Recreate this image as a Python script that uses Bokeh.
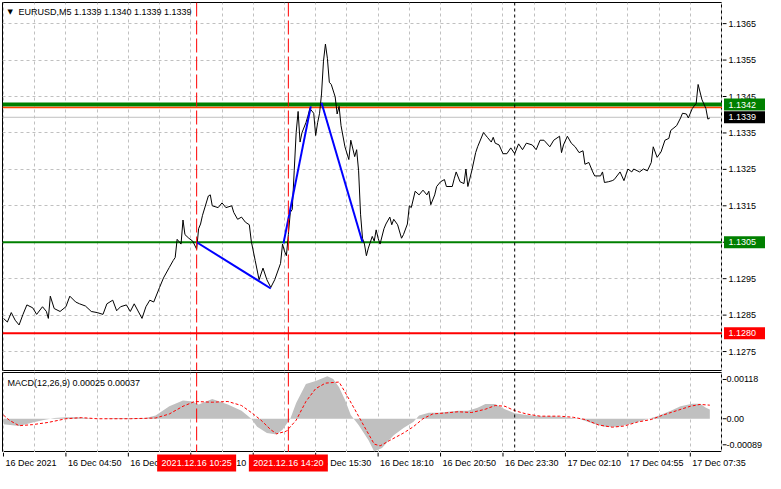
from bokeh.plotting import figure
from bokeh.models import Range1d, FixedTicker, Span, Label, Grid
from bokeh.layouts import column, row
from bokeh.core.properties import value
from bokeh.embed import file_html
from bokeh.resources import INLINE

# ---------------- data ----------------
price_bar = [0, 2, 4, 6, 8, 10, 12, 15, 17, 20, 22, 23, 24, 26, 29, 32, 34, 37, 39, 42, 45, 48, 51, 53,
             56, 58, 60, 63, 65, 67, 71, 73, 75, 77, 80, 82, 85, 87, 88, 89, 91, 92, 93, 95, 97, 99,
             100, 101, 102, 105, 106, 107, 110, 112, 114, 117, 118, 120, 122, 124, 126, 127, 129,
             131, 133, 135, 137, 139, 142, 143, 144, 145, 146, 147, 148, 149, 150, 151, 152, 153,
             155, 156, 157, 159, 160, 161, 162, 163, 164, 165, 166, 167, 168, 170, 171, 172, 173,
             175, 177, 178, 180, 181, 182, 183, 184, 185, 186, 187, 189, 190, 191, 192, 193, 195,
             196, 198, 199, 200, 202, 204, 205, 207, 208, 209, 211, 213, 215, 217, 218, 219, 221,
             222, 224, 226, 227, 230, 231, 232, 234, 236, 237, 238, 240, 242, 243, 246, 248, 250,
             251, 252, 254, 256, 258, 260, 262, 264, 266, 268, 271, 273, 275, 277, 280, 282, 285,
             286, 287, 289, 291, 293, 295, 297, 298, 300, 302, 303, 306, 307, 308, 310, 312, 313,
             316, 318, 320, 322, 323, 326, 328, 330, 332, 333, 335, 337, 339, 341, 342, 345, 347,
             348, 350, 351, 353, 355, 356, 358, 360, 361, 362]
price_close = [1.12841, 1.12831, 1.12857, 1.12836, 1.12823, 1.12852, 1.12878, 1.12870, 1.12852,
               1.12873, 1.12860, 1.12841, 1.12902, 1.12868, 1.12860, 1.12873, 1.12902, 1.12886,
               1.12881, 1.12875, 1.12860, 1.12857, 1.12852, 1.12881, 1.12891, 1.12862, 1.12873,
               1.12878, 1.12860, 1.12881, 1.12841, 1.12873, 1.12891, 1.12886, 1.12926, 1.12952,
               1.12981, 1.13000, 1.13008, 1.13058, 1.13045, 1.13111, 1.13071, 1.13061, 1.13053,
               1.13031, 1.13087, 1.13100, 1.13124, 1.13177, 1.13180, 1.13150, 1.13145, 1.13158,
               1.13145, 1.13150, 1.13132, 1.13113, 1.13119, 1.13105, 1.13098, 1.13053, 1.13000,
               1.12947, 1.12979, 1.12947, 1.12926, 1.12947, 1.12992, 1.13045, 1.13026, 1.13013,
               1.13071, 1.13132, 1.13140, 1.13246, 1.13351, 1.13409, 1.13325, 1.13351, 1.13378,
               1.13396, 1.13417, 1.13404, 1.13343, 1.13378, 1.13404, 1.13457, 1.13547, 1.13594,
               1.13555, 1.13489, 1.13483, 1.13449, 1.13402, 1.13423, 1.13370, 1.13312, 1.13277,
               1.13330, 1.13285, 1.13304, 1.13246, 1.13127, 1.13061, 1.13045, 1.13013, 1.13034,
               1.13066, 1.13053, 1.13084, 1.13061, 1.13045, 1.13087, 1.13100, 1.13119, 1.13098,
               1.13113, 1.13098, 1.13061, 1.13071, 1.13100, 1.13150, 1.13145, 1.13190, 1.13180,
               1.13193, 1.13180, 1.13190, 1.13153, 1.13180, 1.13203, 1.13216, 1.13222, 1.13203,
               1.13203, 1.13224, 1.13243, 1.13216, 1.13211, 1.13251, 1.13203, 1.13246, 1.13296,
               1.13312, 1.13351, 1.13338, 1.13325, 1.13338, 1.13322, 1.13317, 1.13293, 1.13293,
               1.13309, 1.13293, 1.13320, 1.13304, 1.13322, 1.13317, 1.13304, 1.13330, 1.13330,
               1.13312, 1.13330, 1.13341, 1.13296, 1.13317, 1.13341, 1.13322, 1.13312, 1.13296,
               1.13301, 1.13264, 1.13269, 1.13243, 1.13232, 1.13232, 1.13243, 1.13214, 1.13216,
               1.13219, 1.13222, 1.13243, 1.13219, 1.13251, 1.13243, 1.13251, 1.13243, 1.13251,
               1.13246, 1.13269, 1.13312, 1.13283, 1.13298, 1.13330, 1.13335, 1.13357, 1.13370,
               1.13391, 1.13404, 1.13402, 1.13391, 1.13417, 1.13431, 1.13483, 1.13441, 1.13417,
               1.13388, 1.13391]

macd_bar = [0, 8, 15, 20, 26, 32, 38, 48, 57, 73, 78, 85, 92, 97, 100, 107, 115, 122, 127, 130,
            135, 140, 143, 147, 150, 155, 160, 166, 169, 172, 175, 178, 182, 187, 190, 194, 197,
            200, 205, 210, 213, 218, 223, 228, 233, 238, 243, 247, 252, 257, 262, 268, 275, 282,
            288, 295, 302, 308, 315, 322, 328, 335, 342, 347, 353, 357, 360, 362]
macd_main = [-0.00015, -0.00020, -0.00010, -0.00004, 0.00002, 0.00004, 0.00004, -0.00001, 0.00002,
             0.00002, 0.00009, 0.00034, 0.00050, 0.00047, 0.00039, 0.00054, 0.00039, 0.00022,
             0.00000, -0.00022, -0.00039, -0.00043, -0.00030, 0.00000, 0.00043, 0.00095, 0.00103,
             0.00116, 0.00108, 0.00086, 0.00052, 0.00010, -0.00017, -0.00058, -0.00089, -0.00080,
             -0.00062, -0.00045, -0.00025, -0.00009, 0.00009, 0.00016, 0.00016, 0.00019, 0.00022,
             0.00022, 0.00030, 0.00040, 0.00040, 0.00026, 0.00015, 0.00010, 0.00007, 0.00007,
             0.00004, 0.00000, -0.00013, -0.00022, -0.00022, -0.00013, -0.00004, 0.00007, 0.00022,
             0.00034, 0.00041, 0.00041, 0.00030, 0.00025]

signal_bar = [0, 3, 8, 15, 23, 32, 40, 48, 65, 78, 85, 92, 98, 107, 115, 122, 127, 132, 137, 140,
              145, 150, 155, 160, 165, 172, 175, 180, 185, 190, 193, 198, 205, 210, 215, 220, 227,
              233, 240, 247, 252, 257, 262, 268, 275, 285, 292, 298, 305, 312, 318, 325, 332, 338,
              345, 352, 357, 362]
signal_val = [0.00010, -0.00004, -0.00019, -0.00016, -0.00010, 0.00000, 0.00003, 0.00000, 0.00000,
              0.00002, 0.00013, 0.00034, 0.00047, 0.00045, 0.00047, 0.00036, 0.00017, -0.00004,
              -0.00030, -0.00041, -0.00034, -0.00004, 0.00047, 0.00082, 0.00097, 0.00100, 0.00073,
              0.00026, -0.00022, -0.00069, -0.00074, -0.00059, -0.00039, -0.00022, 0.00000, 0.00013,
              0.00016, 0.00019, 0.00017, 0.00026, 0.00036, 0.00034, 0.00022, 0.00013, 0.00007,
              0.00007, 0.00004, -0.00002, -0.00017, -0.00023, -0.00020, -0.00009, -0.00002, 0.00010,
              0.00022, 0.00034, 0.00039, 0.00037]

trend_bar0 = [99, 143.5, 163]
trend_price0 = [1.13050, 1.13047, 1.13433]
trend_bar1 = [137, 157.5, 184]
trend_price1 = [1.12923, 1.13423, 1.13050]

level_price = [1.13428, 1.13420, 1.13393, 1.13050, 1.12800]
tag_price = [1.13428, 1.13393, 1.13050, 1.12800]
tag_text = ["1.1342", "1.1339", "1.1305", "1.1280"]

event_bar = [99, 146]
event_text = ["2021.12.16 10:25", "2021.12.16 14:20"]
day_sep_bar = [262]

price_ticks = [1.1275, 1.1285, 1.1295, 1.1305, 1.1315, 1.1325, 1.1335, 1.1345, 1.1355, 1.1365]
macd_tick_text = ["0.00118", "0.00", "-0.00089"]
time_tick_bar = [0, 32, 64, 96, 128, 160, 192, 224, 256, 288, 320, 352]
time_tick_text = ["16 Dec 2021", "16 Dec 04:50", "16 Dec 07:30", "16 Dec 10:10", "16 Dec 12:50",
                  "16 Dec 15:30", "16 Dec 18:10", "16 Dec 20:50", "16 Dec 23:30", "17 Dec 02:10",
                  "17 Dec 04:55", "17 Dec 07:35"]

main_title = "EURUSD,M5  1.1339 1.1340 1.1339 1.1339"
macd_title = "MACD(12,26,9) 0.00025 0.00037"

# ---------------- styles / layout ----------------
FONT = "Liberation Sans"
GRID = "#c0c0c0"
level_color = ["#008000", "#ff4500", "#c0c0c0", "#008000", "#ff0000"]
level_width = [4, 1.5, 1, 2, 2]
tag_color = ["#008000", "#000000", "#008000", "#ff0000"]

FW, AXW = 720, 43            # plot frame width, right scale strip width
X0, X1 = -0.5, 368.5
PX_PER_BAR = FW / (X1 - X0)
P0, P1 = 1.12698, 1.13708
M0, M1 = -0.00092, 0.00126
macd_tick_pos = [0.00107, 0.0, -0.00071]   # where MT4 draws its scale labels
xr = Range1d(X0, X1)

COMMON = dict(output_backend="svg", toolbar_location=None, background_fill_color="white",
              border_fill_color="white")


def add_vgrid(fig):
    fig.add_layout(Grid(dimension=0, ticker=FixedTicker(ticks=list(range(0, 369, 16))),
                        grid_line_color=GRID, grid_line_dash="3 3", grid_line_width=1))


def add_vlines(fig):
    for b in event_bar:
        fig.add_layout(Span(location=b, dimension="height", line_color="#ff0000",
                            line_dash="14 4", line_width=1))
    for b in day_sep_bar:
        fig.add_layout(Span(location=b, dimension="height", line_color="black",
                            line_dash="3 3", line_width=1))


def side_axis(yr, fh, top, ticks, labels, text_x):
    s = figure(frame_width=AXW, frame_height=fh, x_range=Range1d(0, AXW), y_range=yr,
               x_axis_location=None, y_axis_location=None, min_border_left=0, min_border_right=0,
               min_border_top=top, min_border_bottom=2 if top else 0, outline_line_color=None,
               **COMMON)
    s.grid.visible = False
    s.segment(x0=0, y0=ticks, x1=4, y1=ticks, line_color="black", line_width=1)
    s.text(x=text_x, y=ticks, text=labels, text_font=value(FONT), text_font_size="9px",
           text_baseline="middle", text_align="left", text_color="black")
    return s


# ---------------- main price panel ----------------
p = figure(frame_width=FW, frame_height=368, x_range=xr, y_range=Range1d(P0, P1),
           x_axis_location=None, y_axis_location=None, min_border_left=2, min_border_right=0,
           min_border_top=2, min_border_bottom=2, outline_line_color="black",
           outline_line_width=1, **COMMON)
p.grid.visible = False
add_vgrid(p)
p.add_layout(Grid(dimension=1, ticker=FixedTicker(ticks=price_ticks), grid_line_color=GRID,
                  grid_line_dash="3 3", grid_line_width=1))
for lv, c, w in zip(level_price, level_color, level_width):
    p.add_layout(Span(location=lv, dimension="width", line_color=c, line_width=w, level="underlay"))
add_vlines(p)

p.line(price_bar, price_close, line_color="black", line_width=1)
p.segment(x0=trend_bar0, y0=trend_price0, x1=trend_bar1, y1=trend_price1,
          line_color="#0000ff", line_width=2)

p.add_layout(Label(x=X0, y=P1, x_offset=5, y_offset=-9, text="\u25bc", text_font="DejaVu Sans",
                   text_font_size="7px", text_baseline="middle", text_color="black"))
p.add_layout(Label(x=X0, y=P1, x_offset=16, y_offset=-9, text=main_title, text_font=FONT,
                   text_font_size="9px", text_baseline="middle", text_color="black"))

ps = side_axis(p.y_range, 368, 2, price_ticks, [f"{t:.4f}" for t in price_ticks], 6)
ps.rect(x=AXW / 2 + 1, y=tag_price, width=AXW - 1, height=12, width_units="screen",
        height_units="screen", fill_color=tag_color, line_color=None)
ps.text(x=6, y=tag_price, text=tag_text, text_font=value(FONT), text_font_size="9px",
        text_baseline="middle", text_align="left", text_color="white")

# ---------------- MACD panel ----------------
m = figure(frame_width=FW, frame_height=80, x_range=xr, y_range=Range1d(M0, M1),
           x_axis_location=None, y_axis_location=None, min_border_left=2, min_border_right=0,
           min_border_top=0, min_border_bottom=0, outline_line_color="black",
           outline_line_width=1, **COMMON)
m.grid.visible = False
add_vgrid(m)
m.varea(x=macd_bar, y1=0, y2=macd_main, fill_color="#c0c0c0")
m.line(signal_bar, signal_val, line_color="#ff0000", line_dash="3 2", line_width=1)
add_vlines(m)
m.add_layout(Label(x=X0, y=M1, x_offset=5, y_offset=-10, text=macd_title, text_font=FONT,
                   text_font_size="9px", text_baseline="middle", text_color="black"))

ms = side_axis(m.y_range, 80, 0, macd_tick_pos, macd_tick_text, 4)

# ---------------- time scale strip ----------------
t = figure(frame_width=FW + AXW, frame_height=21,
           x_range=Range1d(X0, X0 + (FW + AXW) / PX_PER_BAR), y_range=Range1d(0, 21),
           x_axis_location=None, y_axis_location=None, min_border_left=2, min_border_right=0,
           min_border_top=0, min_border_bottom=0, outline_line_color=None, **COMMON)
t.grid.visible = False
t.segment(x0=time_tick_bar, y0=21, x1=time_tick_bar, y1=17, line_color="black", line_width=1)
t.text(x=time_tick_bar, y=10.5, text=time_tick_text, x_offset=2, text_font=value(FONT),
       text_font_size="9px", text_baseline="middle", text_align="left", text_color="black")
t.rect(x=event_bar, y=10.5, width=79, height=17, width_units="screen", height_units="screen",
       fill_color="#ff0000", line_color=None)
t.text(x=event_bar, y=10.5, text=event_text, text_font=value(FONT), text_font_size="9px",
       text_baseline="middle", text_align="center", text_color="white")

layout = column(row(p, ps, spacing=0), row(m, ms, spacing=0), t, spacing=0)
open("out.html", "w").write(file_html(layout, INLINE))
